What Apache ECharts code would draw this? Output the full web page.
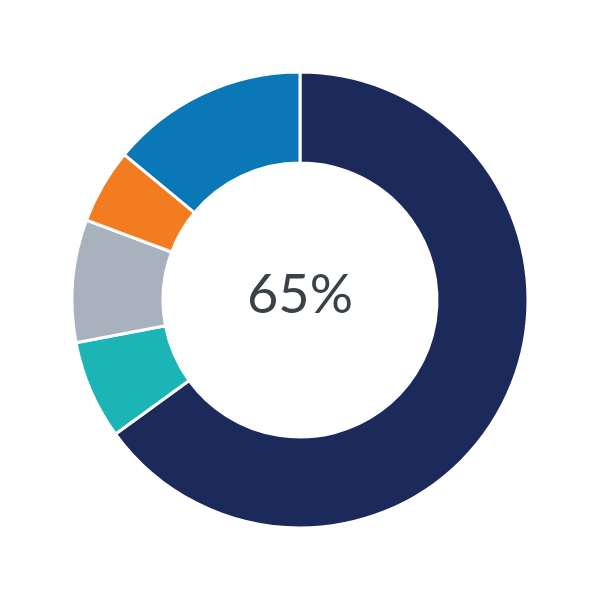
<html style="width: 100%; height: 100%">
<head>
    <meta charset="utf-8">
    <script src="https://cdn.jsdelivr.net/npm/echarts@6/dist/echarts.min.js"></script>
</head>
<body style="width: 100%; height: 100%; margin: 0; background: #fff">
<div id="container" style="width: 600px; height: 600px"></div>

<script type="text/javascript">
    // slice data, clockwise from 12 o'clock
    var names = ['A', 'B', 'C', 'D', 'E'];
    var values = [65, 7, 8.7, 5.3, 14];
    var colors = ['#1b2a5b', '#1cb5b6', '#a8b2bf', '#f47c20', '#0a77b6'];
    var centerLabel = '65%';

    var myChart = echarts.init(document.getElementById('container'));

    var data = [];
    for (var i = 0; i < values.length; i++) {
        data.push({value: values[i], name: names[i], itemStyle: {color: colors[i]}});
    }

    var option = {
        animation: false,
        title: {
            text: centerLabel,
            left: 'center',
            top: 264,
            textStyle: {
                fontFamily: 'Lato',
                fontWeight: 'normal',
                fontSize: 54,
                color: '#3b4149'
            }
        },
        series: [
            {
                type: 'pie',
                center: [300, 300],
                radius: [137, 228],
                startAngle: 90,
                clockwise: true,
                label: {show: false},
                labelLine: {show: false},
                itemStyle: {borderColor: '#fff', borderWidth: 3},
                emphasis: {disabled: true},
                data: data
            }
        ]
    };
    myChart.setOption(option);
</script>
</body>
</html>
